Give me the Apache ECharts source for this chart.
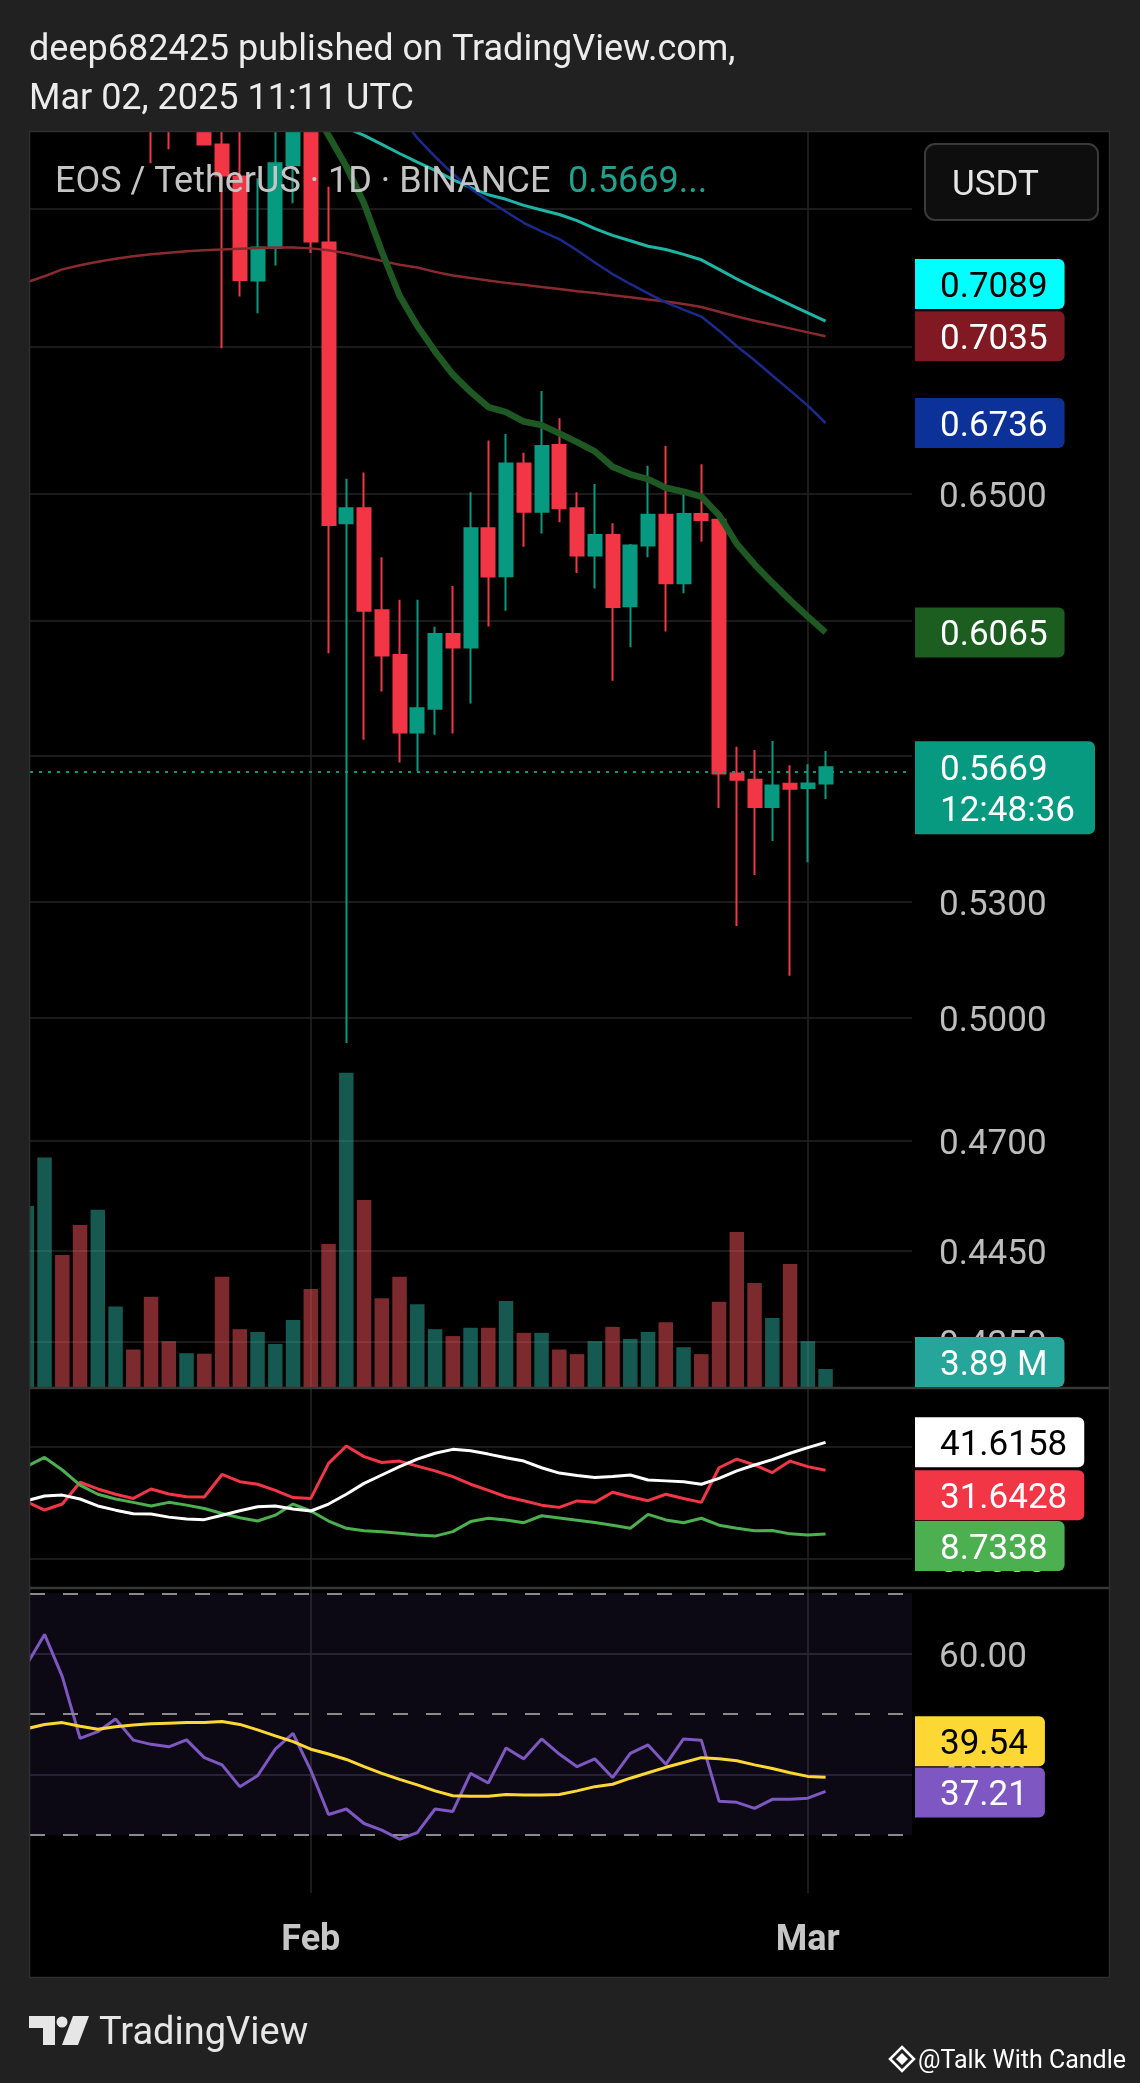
<!DOCTYPE html>
<html><head><meta charset="utf-8"><title>EOS / TetherUS 1D</title>
<script src="https://cdn.jsdelivr.net/npm/echarts@6.0.0/dist/echarts.min.js"></script>
<style>
html,body{margin:0;padding:0;background:#212121;}
#wrap{position:relative;width:1140px;height:2083px;background:#212121;overflow:hidden;}
#frame{position:absolute;left:30px;top:132px;width:1079px;height:1845px;background:#000;}
#chart{position:absolute;left:0;top:0;width:1140px;height:2083px;}
</style></head>
<body><div id="wrap"><div id="frame"></div><div id="chart"></div></div>
<script>
// ---------- data ----------
const dates = ["Jan 16","Jan 17","Jan 18","Jan 19","Jan 20","Jan 21","Jan 22","Jan 23","Jan 24","Jan 25","Jan 26","Jan 27","Jan 28","Jan 29","Jan 30","Jan 31",
"Feb 1","Feb 2","Feb 3","Feb 4","Feb 5","Feb 6","Feb 7","Feb 8","Feb 9","Feb 10","Feb 11","Feb 12","Feb 13","Feb 14","Feb 15","Feb 16","Feb 17","Feb 18","Feb 19","Feb 20","Feb 21","Feb 22","Feb 23","Feb 24","Feb 25","Feb 26","Feb 27","Feb 28",
"Mar 1","Mar 2"];
const open = [0.860,0.900,0.960,0.920,0.860,0.880,0.900,0.860,0.810,0.795,0.805,0.7745,0.7622,0.7235,0.7353,0.7665,
0.800,0.7374,0.6406,0.6454,0.6133,0.5997,0.5768,0.5837,0.6060,0.6019,0.6390,0.6238,0.6601,0.6443,0.6662,0.6454,0.6303,0.6368,0.6145,0.6335,0.6433,0.6216,0.6436,0.6417,0.5651,0.5633,0.5557,0.5622,
0.5610,0.5623];
const close = [0.900,0.960,0.920,0.860,0.880,0.900,0.860,0.810,0.795,0.805,0.7745,0.7625,0.7236,0.7355,0.7672,0.800,
0.7377,0.6400,0.6454,0.6131,0.5995,0.5768,0.5839,0.6060,0.6019,0.6390,0.6237,0.6601,0.6443,0.6659,0.6454,0.6303,0.6368,0.6143,0.6335,0.6433,0.6216,0.6436,0.6416,0.5651,0.5633,0.5557,0.5617,0.5608,
0.5623,0.5669];
const low = [0.850,0.890,0.900,0.830,0.820,0.850,0.850,0.7672,0.7726,0.785,0.7741,0.6993,0.7177,0.7117,0.7289,0.752,
0.7335,0.6002,0.4937,0.5747,0.5888,0.5682,0.5657,0.5762,0.5765,0.5853,0.6083,0.6131,0.6331,0.6373,0.6409,0.6248,0.6200,0.5920,0.6020,0.6298,0.6068,0.6185,0.6347,0.5554,0.5235,0.5371,0.5463,0.5106,
0.5405,0.5579];
const high = [0.920,0.980,0.970,0.940,0.920,0.920,0.910,0.870,0.830,0.820,0.810,0.790,0.785,0.7615,0.790,0.820,
0.810,0.7583,0.6550,0.6571,0.6298,0.6165,0.6165,0.6082,0.6208,0.6506,0.6677,0.6699,0.6636,0.6845,0.6752,0.6506,0.6533,0.6406,0.6340,0.6593,0.6659,0.6500,0.6598,0.6443,0.5727,0.5718,0.5744,0.5674,
0.5677,0.5715];
const volumeM = [39.1,49.6,28.5,35.0,38.3,17.4,8.1,19.5,9.9,7.3,7.2,23.8,12.5,11.9,9.3,14.5,
21.2,30.9,67.9,40.4,19.2,23.8,17.9,12.5,11.0,12.8,12.8,18.6,11.7,11.7,8.1,7.1,9.9,13.0,10.4,11.9,14.0,8.6,7.1,18.4,33.5,22.5,14.9,26.6,
9.9,3.89];
const maCyan = [0.845,0.842,0.839,0.836,0.833,0.830,0.826,0.822,0.818,0.814,0.810,0.806,0.802,0.798,0.795,0.791,
0.788,0.785,0.781,0.778,0.7745,0.771,0.7677,0.7645,0.761,0.758,0.7552,0.7535,0.7512,0.7495,0.7478,0.7455,0.7425,0.7400,0.7380,0.7360,0.7348,0.7330,0.7310,0.7275,0.7240,0.7208,0.7178,0.7148,
0.7118,0.7089];
const maRed = [0.7228,0.7250,0.7275,0.7290,0.7303,0.7314,0.7323,0.7330,0.7336,0.7341,0.7345,0.7348,0.7351,0.7353,0.7355,0.7355,
0.7352,0.7345,0.7334,0.7320,0.7306,0.7292,0.7282,0.7266,0.7253,0.7244,0.7235,0.7226,0.7219,0.7211,0.7204,0.7196,0.7189,0.7181,0.7174,0.7166,0.7159,0.7150,0.7139,0.7122,0.7105,0.7090,0.7077,0.7063,
0.7049,0.7035];
const maNavy = [0.880,0.876,0.872,0.868,0.864,0.860,0.856,0.852,0.848,0.844,0.840,0.836,0.832,0.828,0.824,0.820,
0.816,0.811,0.806,0.800,0.793,0.786,0.7770,0.7698,0.7632,0.7575,0.7530,0.7488,0.7447,0.7415,0.7386,0.7345,0.7300,0.7258,0.7222,0.7188,0.7156,0.7130,0.7105,0.7055,0.7000,0.6951,0.6898,0.6847,
0.6795,0.6736];
const maGreen = [0.870,0.868,0.866,0.864,0.862,0.860,0.857,0.854,0.850,0.846,0.841,0.836,0.830,0.822,0.812,0.802,
0.790,0.778,0.766,0.752,0.734,0.718,0.7072,0.6982,0.6902,0.6842,0.6790,0.6773,0.6741,0.6729,0.6701,0.6672,0.6641,0.6590,0.6565,0.6549,0.6521,0.6508,0.6492,0.6432,0.6340,0.6275,0.6218,0.6164,
0.6113,0.6065];
const dmiWhite = [20.7,22.4,22.7,21.3,18.8,17.3,16.0,15.9,14.8,14.1,13.9,15.5,17.1,18.5,18.8,17.7,
17.0,19.5,23.0,26.9,29.9,32.9,35.6,37.7,39.1,38.6,37.4,36.1,34.9,32.5,30.6,29.7,29.0,29.4,29.9,28.1,27.8,27.5,26.6,28.7,31.4,33.5,35.4,37.7,
39.7,41.6158];
const dmiRed = [20.3,17.35,19.5,27.3,24.9,23.0,21.5,24.9,23.1,22.1,22.0,30.1,27.5,26.6,24.4,21.8,
21.5,34.1,40.3,36.5,34.4,34.9,33.1,31.4,29.3,26.6,24.4,22.1,20.7,19.1,18.3,20.6,20.1,23.7,22.1,20.7,23.0,21.5,20.1,32.5,35.6,33.5,30.8,34.9,
32.9,31.6428];
const dmiGreen = [33.0,36.2,31.7,26.3,23.0,21.3,20.1,18.8,20.1,19.1,17.9,16.1,14.6,13.4,15.5,19.5,
17.0,13.4,10.8,9.9,9.6,9.0,8.4,8.0,9.6,13.2,14.4,13.8,12.8,15.3,14.5,13.7,12.9,11.9,10.8,15.8,13.8,12.8,14.4,11.9,10.8,9.9,10.0,8.8,
8.4,8.7338];
const rsi = [58.2,63.2,56.2,46.0,47.1,49.2,45.7,45.0,44.6,45.75,42.8,41.6,38.0,39.8,44.2,46.8,
40.7,33.4,34.3,31.9,30.8,29.3,30.4,34.3,33.9,40.2,38.6,44.4,42.6,45.9,43.4,41.3,42.6,39.5,43.5,44.9,41.7,45.9,45.7,35.6,35.4,34.4,35.9,35.9,
36.1,37.21];
const rsiMa = [47.6,48.3,48.6,48.0,47.5,47.9,48.2,48.4,48.5,48.6,48.6,48.8,48.3,47.4,46.4,45.45,
44.2,43.4,42.5,41.3,40.2,39.2,38.3,37.3,36.5,36.4,36.4,36.7,36.6,36.6,36.7,37.3,38.0,38.4,39.4,40.3,41.2,42.0,42.8,42.6,42.3,41.6,41.0,40.3,
39.7,39.54];
const priceGridTicks = [0.75,0.70,0.65,0.61,0.57,0.53,0.50,0.47,0.445,0.425];
const priceLabelTicks = [0.65,0.53,0.50,0.47,0.445,0.425];
const dmiTicks = [0,40];
const rsiTicks = [40,60];
const rsiLevels = [70,50,30];
const timeTickDates = ["Feb 1","Mar 1"];
const timeTickNames = ["Feb","Mar"];
const countdown = "12:48:36";

// ---------- build ----------
const FONT = 'Roboto';
const ln = Math.log;
const feb1 = dates.indexOf('Feb 1');
const xOf = i => i - feb1;
const X_MIN = -15.82, X_MAX = 33.87;
const P_MIN = 0.41553, P_MAX = 0.77935;
const timeTickX = timeTickDates.map(d => xOf(dates.indexOf(d)));
const last = a => a[a.length - 1];

const UP = '#089981', DOWN = '#f23645';
const GRID_C = '#252525';
const TY = 4; // text baseline nudge
const BG = '#212121';

const grids = [
  {left:30, top:132, width:882, height:1255},
  {left:30, top:1389, width:882, height:198},
  {left:30, top:1588, width:882, height:305}
];
grids.forEach(g => { g.outerBoundsMode = 'none'; g.containLabel = false; });

const xAxes = [0,1,2].map(g => ({
  type:'value', gridIndex:g, min:X_MIN, max:X_MAX,
  axisLine:{show:false},
  axisTick:{show:false, customValues: timeTickX},
  splitLine:{show:true, lineStyle:{color:GRID_C, width:1.5}},
  axisLabel:{show: g === 2, customValues: timeTickX, margin:30,
    formatter: v => timeTickNames[timeTickX.indexOf(Math.round(v))] || '',
    color:'#c6c6c6', fontSize:36, fontWeight:'bold', fontFamily:FONT}
}));

const labelStyle = {color:'#bdbdbd', fontSize:35, fontFamily:FONT, margin:27, verticalAlign:'top', lineHeight:9};
const yAxes = [
  {type:'value', gridIndex:0, position:'right', min:ln(P_MIN), max:ln(P_MAX),
   axisLine:{show:false}, axisTick:{show:false, customValues: priceGridTicks.map(ln)},
   splitLine:{show:true, lineStyle:{color:GRID_C, width:1.5}},
   axisLabel:Object.assign({customValues: priceLabelTicks.map(ln), formatter: v => Math.exp(v).toFixed(4)}, labelStyle)},
  {type:'value', gridIndex:0, min:0, max:271.2, show:false, splitLine:{show:false}},
  {type:'value', gridIndex:1, position:'right', min:-10.25, max:60.74,
   axisLine:{show:false}, axisTick:{show:false, customValues: dmiTicks},
   splitLine:{show:true, lineStyle:{color:GRID_C, width:1.5}},
   axisLabel:Object.assign({customValues: dmiTicks, formatter: v => v.toFixed(4)}, labelStyle)},
  {type:'value', gridIndex:2, position:'right', min:20.40, max:70.877,
   axisLine:{show:false}, axisTick:{show:false, customValues: rsiTicks},
   splitLine:{show:true, lineStyle:{color:'#262430', width:1.5}},
   axisLabel:Object.assign({customValues: rsiTicks, formatter: v => v.toFixed(2)}, labelStyle)}
];

function line(arr, xi, yi, color, width, tf, z) {
  return {type:'line', xAxisIndex:xi, yAxisIndex:yi, showSymbol:false, symbol:'none', silent:true, clip:true,
    data: arr.map((v,i) => [xOf(i), tf ? ln(v) : v]), lineStyle:{color, width}, z: z || 3,
    emphasis:{disabled:true}};
}

const series = [
  {type:'bar', xAxisIndex:0, yAxisIndex:1, barWidth:14.5, z:1, silent:true, clip:true,
   data: volumeM.map((v,i) => ({value:[xOf(i), v], itemStyle:{color: close[i] >= open[i] ? 'rgba(44,178,162,0.5)' : 'rgba(250,84,92,0.5)'}}))},
  {type:'candlestick', xAxisIndex:0, yAxisIndex:0, barWidth:13.5, z:2, silent:true, clip:true,
   data: dates.map((d,i) => [xOf(i), ln(open[i]), ln(close[i]), ln(low[i]), ln(high[i])]),
   itemStyle:{color:UP, color0:DOWN, borderColor:UP, borderColor0:DOWN, borderWidth:2},
   markLine:{silent:true, symbol:['none','none'], label:{show:false},
     lineStyle:{color:UP, type:[3,6], width:2}, data:[{yAxis: ln(last(close))}]}},
  line(maRed, 0, 0, '#8a2a2e', 2.5, true),
  line(maCyan, 0, 0, '#1db5a6', 3, true),
  line(maNavy, 0, 0, '#1b2a8e', 2.5, true),
  line(maGreen, 0, 0, '#1e5822', 6.5, true),
  line(dmiRed, 1, 2, '#f23645', 3, false),
  line(dmiGreen, 1, 2, '#4caf50', 3, false),
  line(dmiWhite, 1, 2, '#ffffff', 3, false),
  Object.assign(line(rsi, 2, 3, '#7e57c2', 3, false), {
    markArea:{silent:true, itemStyle:{color:'rgba(126,87,194,0.10)'}, data:[[{yAxis:30},{yAxis:70}]]},
    markLine:{silent:true, symbol:['none','none'], label:{show:false},
      lineStyle:{color:'#8a8a8a', type:[15,18], width:2}, data: rsiLevels.map(v => ({yAxis:v}))}
  }),
  line(rsiMa, 2, 3, '#fdd835', 3, false, 4)
];

const chart = echarts.init(document.getElementById('chart'), null, {renderer:'canvas', width:1140, height:2083});
chart.setOption({
  animation:false, backgroundColor:'transparent',
  textStyle:{fontFamily:FONT},
  grid: grids, xAxis: xAxes, yAxis: yAxes, series: series
});

// ---------- annotations ----------
const ctx = document.createElement('canvas').getContext('2d');
const tw = (t, s) => { ctx.font = s + 'px ' + FONT; return ctx.measureText(t).width; };
const yPix = (ai, v) => chart.convertToPixel({yAxisIndex: ai}, v);
const G = [];
function txt(text, x, y, fill, size, extra) {
  G.push(Object.assign({type:'text', z:100, silent:true,
    style:Object.assign({text, x, y: y + TY, fill, fontSize:size, fontFamily:FONT, align:'left', verticalAlign:'middle'}, extra || {})}));
}
function badge(cy, text, bg, fg) {
  const w = tw(text, 35) + 42;
  G.push({type:'rect', z:99, silent:true, shape:{x:915, y:cy-25, width:w, height:50, r:[0,6,6,0]}, style:{fill:bg}});
  txt(text, 940, cy, fg, 35);
}

// page margins (hide anything drawn past the chart frame) and frame border
G.push({type:'rect', z:90, silent:true, shape:{x:0, y:0, width:1140, height:131}, style:{fill:BG}});
G.push({type:'rect', z:90, silent:true, shape:{x:0, y:0, width:29, height:2083}, style:{fill:BG}});
G.push({type:'rect', z:91, silent:true, shape:{x:29.5, y:131.5, width:1080, height:1846}, style:{fill:'none', stroke:'#2e2e2e', lineWidth:1.5}});

// header
txt('deep682425 published on TradingView.com,', 29, 47, '#ececec', 36);
txt('Mar 02, 2025 11:11 UTC', 29, 96, '#ececec', 36);
// legend
txt('EOS / TetherUS · 1D · BINANCE', 55, 179, '#c4c4c4', 36);
txt(last(close).toFixed(4) + '...', 568, 179, '#1fa18d', 36);
// USDT button
G.push({type:'rect', z:99, silent:true, shape:{x:925, y:144, width:173, height:76, r:10}, style:{fill:'#0e0e0e', stroke:'#3a3a3a', lineWidth:2}});
txt('USDT', 952, 182, '#e6e6e6', 35);
// pane separators
[1388, 1588].forEach(y => G.push({type:'line', z:98, silent:true, shape:{x1:30, y1:y, x2:1109, y2:y}, style:{stroke:'#383838', lineWidth:2.5}}));

// main-pane badges
badge(yPix(0, ln(last(maCyan))) - 37, last(maCyan).toFixed(4), '#00ffff', '#000000');
badge(yPix(0, ln(last(maRed))), last(maRed).toFixed(4), '#801922', '#ffffff');
badge(yPix(0, ln(last(maNavy))), last(maNavy).toFixed(4), '#0c3299', '#ffffff');
badge(yPix(0, ln(last(maGreen))), last(maGreen).toFixed(4), '#1b5e20', '#ffffff');
// last price badge with countdown
const pc = yPix(0, ln(last(close)));
G.push({type:'rect', z:99, silent:true, shape:{x:915, y:pc-26, width:180, height:93, r:[0,6,6,0]}, style:{fill:UP}});
txt(last(close).toFixed(4), 940, pc, '#ffffff', 35);
txt(countdown, 940, pc + 41, '#ffffff', 35);
// volume badge
badge(Math.min(yPix(1, last(volumeM)), 1387 - 25), last(volumeM).toFixed(2) + ' M', '#26a69a', '#ffffff');
// DMI badges
badge(yPix(2, last(dmiWhite)), last(dmiWhite).toFixed(4), '#ffffff', '#000000');
badge(yPix(2, last(dmiRed)) + 25, last(dmiRed).toFixed(4), '#f23645', '#ffffff');
badge(yPix(2, last(dmiGreen)) + 12, last(dmiGreen).toFixed(4), '#4caf50', '#ffffff');
// RSI badges
badge(yPix(3, last(rsiMa)) - 36, last(rsiMa).toFixed(2), '#fdd835', '#000000');
badge(yPix(3, last(rsi)) + 1, last(rsi).toFixed(2), '#7e57c2', '#ffffff');

// footer: TradingView logo + watermark
const LC = '#e6e6e6';
G.push({type:'polygon', z:100, silent:true, shape:{points:[[29,2016],[55,2016],[55,2045],[43,2045],[43,2028],[29,2028]]}, style:{fill:LC}});
G.push({type:'circle', z:100, silent:true, shape:{cx:62, cy:2022, r:5.5}, style:{fill:LC}});
G.push({type:'polygon', z:100, silent:true, shape:{points:[[73,2016],[89,2016],[78,2045],[62,2045]]}, style:{fill:LC}});
txt('TradingView', 99, 2030, LC, 38);
G.push({type:'polygon', z:100, silent:true, shape:{points:[[902,2047],[914,2059],[902,2071],[890,2059]]}, style:{fill:'none', stroke:'#ffffff', lineWidth:2.5}});
G.push({type:'polygon', z:100, silent:true, shape:{points:[[902,2053],[908,2059],[902,2065],[896,2059]]}, style:{fill:'#ffffff'}});
txt('@Talk With Candle', 918, 2058, '#ffffff', 25);

chart.setOption({graphic: G});
</script></body></html>
